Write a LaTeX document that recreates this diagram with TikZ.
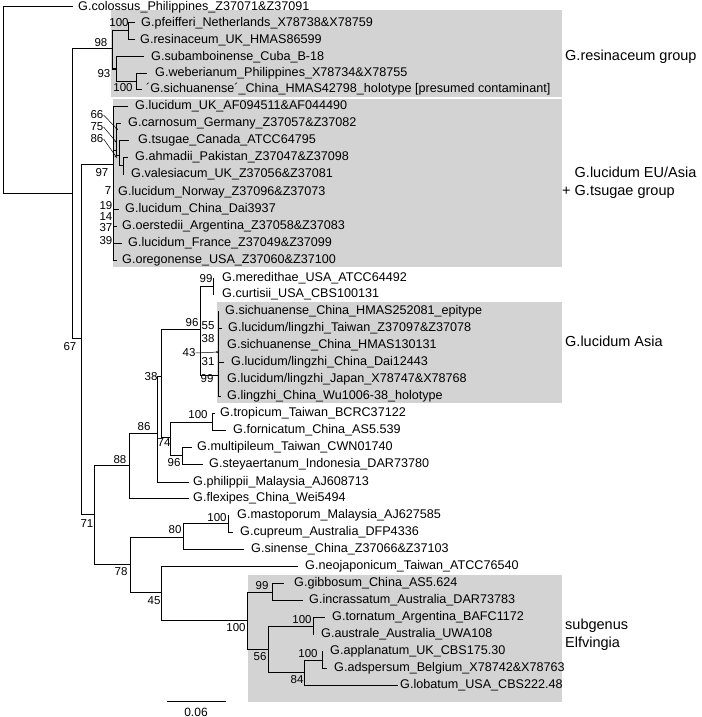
\documentclass[tikz,border=0pt]{standalone}
\usepackage{fontspec}
\setmainfont{Liberation Sans}
\definecolor{grp}{RGB}{211,211,211}
\tikzset{
  lf/.style={anchor=west,inner sep=0pt,font=\fontsize{12.6}{14}\selectfont},
  bs/.style={inner sep=0pt,font=\fontsize{11.5}{13}\selectfont},
  gl/.style={anchor=west,inner sep=0pt,font=\fontsize{14.5}{18}\selectfont,align=left},
  br/.style={line width=1pt,line cap=rect},
  box/.style={fill=grp,draw=none},
  ptr/.style={line width=0.5pt,-{Stealth[length=3pt,width=2pt]}}
}
\usetikzlibrary{arrows.meta}
\newcommand{\hb}[3]{\draw[br] (#1,#3) -- (#2,#3);}
\newcommand{\vb}[3]{\draw[br] (#1,#2) -- (#1,#3);}
\begin{document}
\begin{tikzpicture}[x=1pt,y=-1pt]
\useasboundingbox[fill=white] (0,0) rectangle (701,717);
% group boxes
\fill[box] (111,10) rectangle (562,97);
\fill[box] (113,99) rectangle (562,267);
\fill[box] (217,302) rectangle (562,403);
\fill[box] (248,575) rectangle (562,702);
% root
\vb{3}{7}{193}\hb{3}{72}{7}\hb{3}{72}{193}
\vb{72}{49}{338}\hb{72}{112}{49}\hb{72}{81}{338}
% resinaceum group
\vb{112}{31}{69}\hb{112}{128}{31}\hb{112}{116}{69}
\vb{128}{23}{40}\hb{128}{134}{23}\hb{128}{134}{40}
\vb{116}{57}{81}\hb{116}{143}{57}\hb{116}{136}{81}
\vb{136}{73}{89}\hb{136}{146}{73}\hb{136}{141}{89}
% EU/Asia group
\vb{81}{164}{514}\hb{81}{113}{164}\hb{81}{94}{514}
\vb{113}{106}{260}\hb{113}{127}{106}
\hb{113}{116}{150}\vb{116}{123}{155}\hb{116}{120}{123}
\hb{116}{119}{155}\vb{119}{140}{165}\hb{119}{128}{140}\hb{119}{123}{165}
\vb{123}{157}{174}\hb{123}{127}{157}
\hb{113}{118}{209}\hb{113}{116}{226}\hb{113}{121}{243}\hb{113}{116}{260}
% middle
\vb{94}{465}{564}\hb{94}{129}{465}\hb{94}{130}{564}
\vb{129}{433}{498}\hb{129}{157}{433}\hb{129}{188}{498}
\vb{157}{376}{482}\hb{157}{161}{376}\hb{157}{188}{482}
\vb{161}{329}{437}\hb{161}{200}{329}\hb{161}{170}{437}
\vb{200}{286}{375}\hb{200}{213}{286}\hb{200}{218}{375}
\vb{213}{278}{294}
\vb{218}{311}{396}\hb{218}{221}{328}\hb{218}{223}{362}\hb{218}{220}{396}
\vb{170}{422}{455}\hb{170}{212}{422}\hb{170}{182}{455}
\vb{212}{413}{430}\hb{212}{214}{413}\hb{212}{225}{430}
\vb{182}{447}{464}\hb{182}{191}{447}\hb{182}{202}{464}
% lower
\vb{130}{537}{592}\hb{130}{183}{537}\hb{130}{161}{592}
\vb{183}{523}{549}\hb{183}{228}{523}\hb{183}{243}{549}
\vb{228}{515}{532}\hb{228}{232}{532}
\vb{161}{566}{620}\hb{161}{297}{566}\hb{161}{247}{620}
\vb{247}{592}{649}\hb{247}{272}{592}\hb{247}{268}{649}
\vb{272}{583}{600}\hb{272}{283}{583}\hb{272}{302}{600}
\vb{268}{626}{672}\hb{268}{313}{626}\hb{268}{304}{672}
\vb{313}{617}{634}\hb{313}{324}{617}
\vb{304}{660}{685}\hb{304}{322}{660}\hb{304}{397}{685}
\vb{322}{651}{668}\hb{322}{326}{668}
% leaves
\node[lf] (l1) at (78,7) {G.colossus\_Philippines\_Z37071\&Z37091};
\node[lf] (l2) at (141,23) {G.pfeifferi\_Netherlands\_X78738\&X78759};
\node[lf] (l3) at (140,40) {G.resinaceum\_UK\_HMAS86599};
\node[lf] (l4) at (151,57) {G.subamboinense\_Cuba\_B-18};
\node[lf] (l5) at (155,73) {G.weberianum\_Philippines\_X78734\&X78755};
\node[lf] (l6) at (146,89) {´G.sichuanense´\_China\_HMAS42798\_holotype [presumed contaminant]};
\node[lf] (l7) at (135,106) {G.lucidum\_UK\_AF094511\&AF044490};
\node[lf] (l8) at (128,123) {G.carnosum\_Germany\_Z37057\&Z37082};
\node[lf] (l9) at (138,140) {G.tsugae\_Canada\_ATCC64795};
\node[lf] (l10) at (135,157) {G.ahmadii\_Pakistan\_Z37047\&Z37098};
\node[lf] (l11) at (131,174) {G.valesiacum\_UK\_Z37056\&Z37081};
\node[lf] (l12) at (118,192) {G.lucidum\_Norway\_Z37096\&Z37073};
\node[lf] (l13) at (125,209) {G.lucidum\_China\_Dai3937};
\node[lf] (l14) at (122,226) {G.oerstedii\_Argentina\_Z37058\&Z37083};
\node[lf] (l15) at (128,243) {G.lucidum\_France\_Z37049\&Z37099};
\node[lf] (l16) at (122,260) {G.oregonense\_USA\_Z37060\&Z37100};
\node[lf] (l17) at (222,278) {G.meredithae\_USA\_ATCC64492};
\node[lf] (l18) at (222,294) {G.curtisii\_USA\_CBS100131};
\node[lf] (l19) at (225,311) {G.sichuanense\_China\_HMAS252081\_epitype};
\node[lf] (l20) at (228,328) {G.lucidum/lingzhi\_Taiwan\_Z37097\&Z37078};
\node[lf] (l21) at (227,345) {G.sichuanense\_China\_HMAS130131};
\node[lf] (l22) at (231,362) {G.lucidum/lingzhi\_China\_Dai12443};
\node[lf] (l23) at (227,379) {G.lucidum/lingzhi\_Japan\_X78747\&X78768};
\node[lf] (l24) at (227,396) {G.lingzhi\_China\_Wu1006-38\_holotype};
\node[lf] (l25) at (220,413) {G.tropicum\_Taiwan\_BCRC37122};
\node[lf] (l26) at (233,430) {G.fornicatum\_China\_AS5.539};
\node[lf] (l27) at (197,447) {G.multipileum\_Taiwan\_CWN01740};
\node[lf] (l28) at (209,464) {G.steyaertanum\_Indonesia\_DAR73780};
\node[lf] (l29) at (193,482) {G.philippii\_Malaysia\_AJ608713};
\node[lf] (l30) at (193,498) {G.flexipes\_China\_Wei5494};
\node[lf] (l31) at (237,515) {G.mastoporum\_Malaysia\_AJ627585};
\node[lf] (l32) at (240,532) {G.cupreum\_Australia\_DFP4336};
\node[lf] (l33) at (251,549) {G.sinense\_China\_Z37066\&Z37103};
\node[lf] (l34) at (305,566) {G.neojaponicum\_Taiwan\_ATCC76540};
\node[lf] (l35) at (294,583) {G.gibbosum\_China\_AS5.624};
\node[lf] (l36) at (309,600) {G.incrassatum\_Australia\_DAR73783};
\node[lf] (l37) at (332,617) {G.tornatum\_Argentina\_BAFC1172};
\node[lf] (l38) at (321,634) {G.australe\_Australia\_UWA108};
\node[lf] (l39) at (330,651) {G.applanatum\_UK\_CBS175.30};
\node[lf] (l40) at (334,668) {G.adspersum\_Belgium\_X78742\&X78763};
\node[lf] (l41) at (400,685) {G.lobatum\_USA\_CBS222.48};
% bootstrap
\node[bs] (b1) at (119,23) {100};
\node[bs] (b2) at (101,43) {98};
\node[bs] (b3) at (104,74) {93};
\node[bs] (b4) at (123,88) {100};
\node[bs] (b5) at (97,115) {66};
\node[bs] (b6) at (97,127) {75};
\node[bs] (b7) at (97,139) {86};
\draw[ptr] (b5.east) -- (118,130);
\draw[ptr] (b6.east) -- (117,143);
\draw[ptr] (b7.east) -- (117,158);
\node[bs] (b8) at (102,173) {97};
\node[bs] (b9) at (108,191) {7};
\node[bs] (b10) at (106,206) {19};
\node[bs] (b11) at (106,217) {14};
\node[bs] (b12) at (106,228) {37};
\node[bs] (b13) at (106,241) {39};
\node[bs] (b14) at (70,347) {67};
\node[bs] (b15) at (206,279) {99};
\node[bs] (b16) at (192,323) {96};
\node[bs] (b17) at (208,326) {55};
\node[bs] (b18) at (208,339) {38};
\node[bs] (b19) at (189,353) {43};
\draw[ptr] (b19.east) -- (219,352);
\node[bs] (b20) at (208,362) {31};
\node[bs] (b21) at (207,379) {99};
\node[bs] (b22) at (151,377) {38};
\node[bs] (b23) at (144,427) {86};
\node[bs] (b24) at (198,415) {100};
\node[bs] (b25) at (164,443) {74};
\node[bs] (b26) at (174,463) {96};
\node[bs] (b27) at (120,460) {88};
\node[bs] (b28) at (87,524) {71};
\node[bs] (b29) at (175,530) {80};
\node[bs] (b30) at (217,518) {100};
\node[bs] (b31) at (121,572) {78};
\node[bs] (b32) at (154,601) {45};
\node[bs] (b33) at (236,628) {100};
\node[bs] (b34) at (262,586) {99};
\node[bs] (b35) at (302,620) {100};
\node[bs] (b36) at (260,657) {56};
\node[bs] (b37) at (308,654) {100};
\node[bs] (b38) at (297,680) {84};
% group labels
\node[gl] (g1) at (565,57) {G.resinaceum group};
\node[gl] (g2) at (562,183) {\phantom{+ }G.lucidum EU/Asia\\+ G.tsugae group};
\node[gl] (g3) at (565,341) {G.lucidum Asia};
\node[gl] (g4) at (565,635) {subgenus\\Elfvingia};
% scale bar
\coordinate (s1) at (167,701);
\coordinate (s2) at (225,701);
\draw[br] (s1) -- (s2);
\node[bs,font=\fontsize{12}{13}\selectfont,anchor=base] (sl) at (196,716) {0.06};
\end{tikzpicture}
\end{document}
